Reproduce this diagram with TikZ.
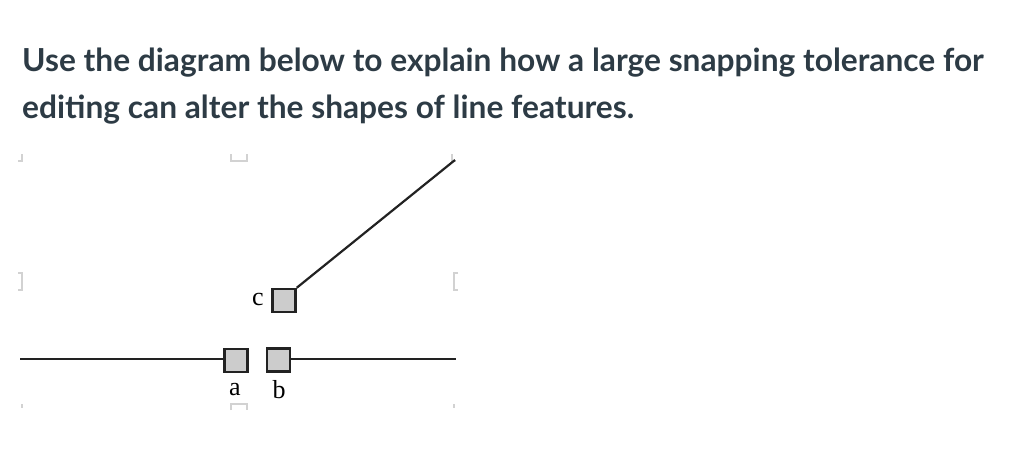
\documentclass[tikz,border=0pt]{standalone}
\usepackage{fontspec}
\setmainfont{Lato}
\newfontfamily\labelfont{Liberation Serif}
\usepackage{tikz}
\definecolor{canvastext}{HTML}{2D3B45}
\definecolor{vertexgray}{HTML}{CCCCCC}
\definecolor{featureline}{HTML}{222222}

\begin{document}
\begin{tikzpicture}[x=1pt,y=-1pt,
    question/.style={anchor=base west, inner sep=0pt, text=canvastext,
        font=\fontsize{31.7}{38}\selectfont\bfseries},
    vertex/.style={draw=featureline, fill=vertexgray, line width=2.5pt,
        minimum size=23pt, inner sep=0pt},
    vlabel/.style={inner sep=0pt, font=\labelfont\fontsize{26}{30}\selectfont},
    feature/.style={featureline, line width=2.2pt},
    handle/.style={gray!35, line width=1.4pt}]
    \useasboundingbox (0,0) rectangle (1021,459);

    % Question text
    \node[question] (line1) at (22,71) {Use the diagram below to explain how a large snapping tolerance for};
    \node[question] (line2) at (22,118) {editing can alter the shapes of line features.};

    % Selection handles of the figure
    \draw[handle] (18,161) -- (22,161) -- (22,154);
    \draw[handle] (231,154) -- (231,161) -- (247,161) -- (247,154);
    \draw[handle] (452,154) -- (452,161) -- (456,161);
    \draw[handle] (18,273) -- (22,273) -- (22,290) -- (18,290);
    \draw[handle] (458,273) -- (454,273) -- (454,290) -- (458,290);
    \draw[handle] (22,404) -- (22,408);
    \draw[handle] (231,410) -- (231,404) -- (247,404) -- (247,410);
    \draw[handle] (454,404) -- (454,408);

    % Line ends
    \coordinate (left) at (20,359);
    \coordinate (right) at (456,359);
    \coordinate (top) at (455,160);

    % Vertices
    \node[vertex] (a) at (236,360.5) {};
    \node[vertex] (b) at (278.5,360) {};
    \node[vertex] (c) at (284,300.5) {};

    % Draw the line features
    \draw[feature] (left) -- (left -| a.west);
    \draw[feature] (b.east |- right) -- (right);
    \draw[feature] (c.north east) -- (top);

    % Vertex labels
    \node[vlabel] (alab) at (235,390) {a};
    \node[vlabel] (blab) at (279,390) {b};
    \node[vlabel] (clab) at (258,299) {c};
\end{tikzpicture}
\end{document}
